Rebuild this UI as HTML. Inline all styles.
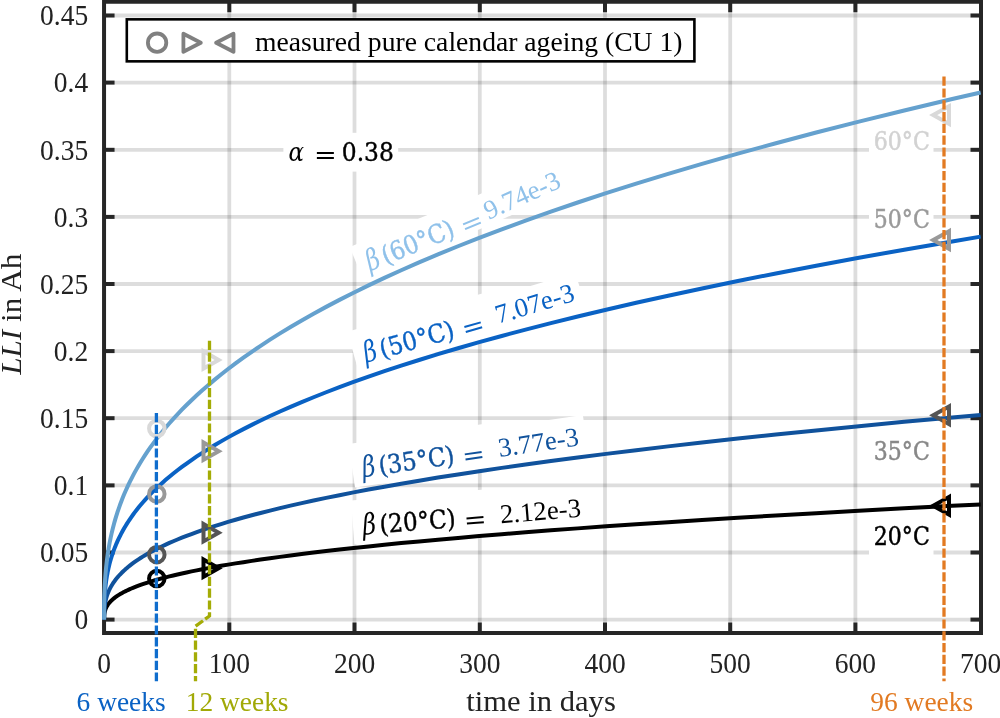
<!DOCTYPE html>
<html><head><meta charset="utf-8"><title>LLI calendar ageing</title>
<style>
html,body{margin:0;padding:0;background:#fff;}
body{width:1000px;height:718px;overflow:hidden;}
svg{display:block;}
text{font-family:"Liberation Serif",serif;}
.tk{font-size:27.5px;fill:#222;}
.m{font-family:"DejaVu Serif Condensed","DejaVu Serif","Liberation Serif",serif;}
</style></head><body>
<svg width="1000" height="718" viewBox="0 0 1000 718">
<rect width="1000" height="718" fill="#fff"/>

<g stroke="#000" stroke-opacity="0.135" stroke-width="3.8" fill="none">
<line x1="229.3" y1="1.75" x2="229.3" y2="633"/>
<line x1="354.5" y1="1.75" x2="354.5" y2="633"/>
<line x1="479.8" y1="1.75" x2="479.8" y2="633"/>
<line x1="605.0" y1="1.75" x2="605.0" y2="633"/>
<line x1="730.2" y1="1.75" x2="730.2" y2="633"/>
<line x1="855.4" y1="1.75" x2="855.4" y2="633"/>
<line x1="104.05" y1="619.6" x2="981" y2="619.6"/>
<line x1="104.05" y1="552.5" x2="981" y2="552.5"/>
<line x1="104.05" y1="485.4" x2="981" y2="485.4"/>
<line x1="104.05" y1="418.2" x2="981" y2="418.2"/>
<line x1="104.05" y1="351.1" x2="981" y2="351.1"/>
<line x1="104.05" y1="284.0" x2="981" y2="284.0"/>
<line x1="104.05" y1="216.9" x2="981" y2="216.9"/>
<line x1="104.05" y1="149.8" x2="981" y2="149.8"/>
<line x1="104.05" y1="82.6" x2="981" y2="82.6"/>
<line x1="104.05" y1="15.5" x2="981" y2="15.5"/>
</g>
<g stroke="#262626" stroke-width="4" fill="none">
<line x1="229.3" y1="633" x2="229.3" y2="622.5"/>
<line x1="229.3" y1="1.75" x2="229.3" y2="12.25"/>
<line x1="354.5" y1="633" x2="354.5" y2="622.5"/>
<line x1="354.5" y1="1.75" x2="354.5" y2="12.25"/>
<line x1="479.8" y1="633" x2="479.8" y2="622.5"/>
<line x1="479.8" y1="1.75" x2="479.8" y2="12.25"/>
<line x1="605.0" y1="633" x2="605.0" y2="622.5"/>
<line x1="605.0" y1="1.75" x2="605.0" y2="12.25"/>
<line x1="730.2" y1="633" x2="730.2" y2="622.5"/>
<line x1="730.2" y1="1.75" x2="730.2" y2="12.25"/>
<line x1="855.4" y1="633" x2="855.4" y2="622.5"/>
<line x1="855.4" y1="1.75" x2="855.4" y2="12.25"/>
<line x1="104.05" y1="619.6" x2="114.55" y2="619.6"/>
<line x1="981" y1="619.6" x2="970.5" y2="619.6"/>
<line x1="104.05" y1="552.5" x2="114.55" y2="552.5"/>
<line x1="981" y1="552.5" x2="970.5" y2="552.5"/>
<line x1="104.05" y1="485.4" x2="114.55" y2="485.4"/>
<line x1="981" y1="485.4" x2="970.5" y2="485.4"/>
<line x1="104.05" y1="418.2" x2="114.55" y2="418.2"/>
<line x1="981" y1="418.2" x2="970.5" y2="418.2"/>
<line x1="104.05" y1="351.1" x2="114.55" y2="351.1"/>
<line x1="981" y1="351.1" x2="970.5" y2="351.1"/>
<line x1="104.05" y1="284.0" x2="114.55" y2="284.0"/>
<line x1="981" y1="284.0" x2="970.5" y2="284.0"/>
<line x1="104.05" y1="216.9" x2="114.55" y2="216.9"/>
<line x1="981" y1="216.9" x2="970.5" y2="216.9"/>
<line x1="104.05" y1="149.8" x2="114.55" y2="149.8"/>
<line x1="981" y1="149.8" x2="970.5" y2="149.8"/>
<line x1="104.05" y1="82.6" x2="114.55" y2="82.6"/>
<line x1="981" y1="82.6" x2="970.5" y2="82.6"/>
<line x1="104.05" y1="15.5" x2="114.55" y2="15.5"/>
<line x1="981" y1="15.5" x2="970.5" y2="15.5"/>
</g>
<rect x="104.05" y="1.75" width="876.95" height="631.25" fill="none" stroke="#262626" stroke-width="4"/>
<g class="tk" text-anchor="end">
<text transform="translate(88.2,629.3) scale(1,1.04)">0</text>
<text transform="translate(88.2,562.2) scale(1,1.04)">0.05</text>
<text transform="translate(88.2,495.1) scale(1,1.04)">0.1</text>
<text transform="translate(88.2,427.9) scale(1,1.04)">0.15</text>
<text transform="translate(88.2,360.8) scale(1,1.04)">0.2</text>
<text transform="translate(88.2,293.7) scale(1,1.04)">0.25</text>
<text transform="translate(88.2,226.6) scale(1,1.04)">0.3</text>
<text transform="translate(88.2,159.5) scale(1,1.04)">0.35</text>
<text transform="translate(88.2,92.3) scale(1,1.04)">0.4</text>
<text transform="translate(88.2,25.2) scale(1,1.04)">0.45</text>
</g>
<g class="tk" text-anchor="middle">
<text transform="translate(104.1,672.9) scale(1,1.04)">0</text>
<text transform="translate(229.3,672.9) scale(1,1.04)">100</text>
<text transform="translate(354.5,672.9) scale(1,1.04)">200</text>
<text transform="translate(479.8,672.9) scale(1,1.04)">300</text>
<text transform="translate(605.0,672.9) scale(1,1.04)">400</text>
<text transform="translate(730.2,672.9) scale(1,1.04)">500</text>
<text transform="translate(855.4,672.9) scale(1,1.04)">600</text>
<text transform="translate(980.6,672.9) scale(1,1.04)">700</text>
</g>
<text transform="translate(541,711.3) scale(1.045,1)" text-anchor="middle" font-size="29.3" fill="#222">time in days</text>
<text transform="translate(20.9,314.2) rotate(-90) scale(1.045,1)" text-anchor="middle" font-size="29.8" fill="#222"><tspan font-style="italic">LLI</tspan> in Ah</text>
<g transform="translate(369.5,271.4) rotate(-22.4)" fill="#fff"><rect x="-9" y="-30" width="134" height="33"/><rect transform="translate(129.5,-2.2) rotate(-1.7)" x="-6" y="-27" width="94.5" height="32"/></g>
<g transform="translate(365.5,363.0) rotate(-15.8)" fill="#fff"><rect x="-9" y="-35" width="143" height="44"/><rect transform="translate(138.5,-1.5) rotate(-1)" x="-6" y="-27" width="94.5" height="34"/></g>
<g transform="translate(362.6,477.3) rotate(-8.4)" fill="#fff"><rect x="-9" y="-35" width="143" height="44"/><rect transform="translate(138.5,0) rotate(0)" x="-6" y="-29.5" width="94.5" height="36.5"/></g>
<g transform="translate(362.7,534.7) rotate(-4.7)" fill="#fff"><rect x="-9" y="-35" width="143" height="44"/><rect transform="translate(138.5,0) rotate(0)" x="-6" y="-27" width="94.5" height="34"/></g>
<rect x="283.4" y="132.8" width="114.8" height="38.8" fill="#fff"/>
<path d="M104.10,619.20 L104.13,617.05 L104.13,617.00 L104.13,616.95 L104.13,616.90 L104.13,616.85 L104.13,616.79 L104.14,616.74 L104.14,616.69 L104.14,616.63 L104.14,616.57 L104.14,616.51 L104.15,616.45 L104.15,616.39 L104.15,616.33 L104.16,616.26 L104.16,616.20 L104.16,616.13 L104.17,616.06 L104.17,615.99 L104.18,615.92 L104.18,615.85 L104.19,615.77 L104.19,615.70 L104.20,615.62 L104.20,615.54 L104.21,615.45 L104.21,615.37 L104.22,615.29 L104.23,615.20 L104.24,615.11 L104.24,615.02 L104.25,614.92 L104.26,614.83 L104.27,614.73 L104.28,614.63 L104.29,614.53 L104.30,614.42 L104.32,614.31 L104.33,614.21 L104.34,614.09 L104.36,613.98 L104.37,613.86 L104.39,613.74 L104.41,613.62 L104.43,613.50 L104.44,613.37 L104.47,613.24 L104.49,613.10 L104.51,612.97 L104.54,612.83 L104.56,612.69 L104.59,612.54 L104.62,612.39 L104.65,612.24 L104.68,612.08 L104.72,611.92 L104.75,611.76 L104.79,611.59 L104.84,611.42 L104.88,611.25 L104.93,611.07 L104.98,610.89 L105.03,610.70 L105.08,610.51 L105.14,610.32 L105.21,610.12 L105.27,609.92 L105.34,609.71 L105.42,609.50 L105.50,609.28 L105.58,609.06 L105.67,608.83 L105.76,608.60 L105.86,608.36 L105.97,608.12 L106.08,607.87 L106.20,607.61 L106.32,607.35 L106.46,607.09 L106.60,606.82 L106.75,606.54 L106.91,606.26 L107.08,605.97 L107.26,605.67 L107.45,605.37 L107.65,605.06 L107.86,604.74 L108.08,604.42 L108.32,604.09 L108.58,603.75 L108.84,603.40 L109.13,603.05 L109.43,602.69 L109.75,602.32 L110.09,601.94 L110.45,601.55 L110.83,601.16 L111.23,600.76 L111.66,600.34 L112.12,599.92 L112.60,599.49 L113.11,599.05 L113.65,598.60 L114.22,598.14 L114.83,597.66 L115.47,597.18 L116.15,596.69 L116.88,596.18 L117.64,595.67 L118.46,595.14 L119.32,594.60 L120.23,594.05 L121.20,593.49 L122.22,592.91 L123.31,592.33 L124.46,591.72 L125.69,591.11 L126.98,590.48 L128.35,589.84 L129.81,589.18 L131.35,588.51 L132.99,587.82 L134.72,587.12 L136.56,586.40 L138.51,585.66 L140.57,584.91 L142.76,584.15 L145.08,583.36 L147.54,582.56 L150.14,581.74 L152.91,580.90 L155.83,580.04 L158.94,579.17 L162.23,578.27 L165.72,577.35 L169.41,576.42 L173.33,575.46 L177.48,574.48 L181.89,573.48 L186.56,572.45 L191.50,571.41 L196.75,570.34 L202.31,569.24 L208.20,568.12 L214.44,566.98 L221.06,565.81 L228.08,564.62 L235.52,563.39 L243.41,562.15 L251.77,560.87 L260.62,559.56 L270.02,558.23 L279.97,556.86 L290.52,555.47 L301.71,554.04 L313.57,552.58 L326.13,551.09 L339.46,549.56 L353.58,548.00 L368.55,546.41 L384.41,544.78 L401.23,543.11 L419.06,541.41 L437.96,539.67 L457.99,537.89 L479.22,536.07 L501.73,534.21 L525.59,532.30 L550.88,530.36 L577.68,528.37 L606.10,526.34 L636.22,524.26 L668.14,522.13 L701.99,519.96 L737.86,517.74 L775.88,515.46 L816.19,513.14 L858.92,510.77 L904.21,508.34 L952.21,505.86 L980.64,504.43" stroke="#000000" stroke-width="4" fill="none" stroke-linejoin="round"/>
<path d="M104.10,619.00 L104.13,615.17 L104.13,615.09 L104.13,615.00 L104.13,614.91 L104.13,614.82 L104.13,614.72 L104.14,614.63 L104.14,614.53 L104.14,614.43 L104.14,614.33 L104.14,614.22 L104.15,614.11 L104.15,614.01 L104.15,613.89 L104.16,613.78 L104.16,613.66 L104.16,613.54 L104.17,613.42 L104.17,613.30 L104.18,613.17 L104.18,613.04 L104.19,612.90 L104.19,612.77 L104.20,612.63 L104.20,612.49 L104.21,612.34 L104.21,612.19 L104.22,612.04 L104.23,611.88 L104.24,611.72 L104.24,611.56 L104.25,611.39 L104.26,611.22 L104.27,611.05 L104.28,610.87 L104.29,610.69 L104.30,610.50 L104.32,610.31 L104.33,610.12 L104.34,609.92 L104.36,609.72 L104.37,609.51 L104.39,609.30 L104.41,609.08 L104.43,608.86 L104.44,608.63 L104.47,608.40 L104.49,608.16 L104.51,607.92 L104.54,607.67 L104.56,607.41 L104.59,607.16 L104.62,606.89 L104.65,606.62 L104.68,606.34 L104.72,606.06 L104.75,605.77 L104.79,605.47 L104.84,605.17 L104.88,604.86 L104.93,604.54 L104.98,604.22 L105.03,603.89 L105.08,603.55 L105.14,603.20 L105.21,602.85 L105.27,602.49 L105.34,602.12 L105.42,601.74 L105.50,601.36 L105.58,600.96 L105.67,600.56 L105.76,600.14 L105.86,599.72 L105.97,599.29 L106.08,598.85 L106.20,598.40 L106.32,597.94 L106.46,597.46 L106.60,596.98 L106.75,596.49 L106.91,595.99 L107.08,595.47 L107.26,594.94 L107.45,594.40 L107.65,593.85 L107.86,593.29 L108.08,592.72 L108.32,592.13 L108.58,591.52 L108.84,590.91 L109.13,590.28 L109.43,589.64 L109.75,588.98 L110.09,588.31 L110.45,587.62 L110.83,586.92 L111.23,586.20 L111.66,585.47 L112.12,584.72 L112.60,583.95 L113.11,583.16 L113.65,582.36 L114.22,581.54 L114.83,580.70 L115.47,579.84 L116.15,578.97 L116.88,578.07 L117.64,577.15 L118.46,576.22 L119.32,575.26 L120.23,574.28 L121.20,573.28 L122.22,572.26 L123.31,571.21 L124.46,570.14 L125.69,569.05 L126.98,567.93 L128.35,566.78 L129.81,565.61 L131.35,564.42 L132.99,563.20 L134.72,561.95 L136.56,560.67 L138.51,559.36 L140.57,558.03 L142.76,556.66 L145.08,555.27 L147.54,553.84 L150.14,552.38 L152.91,550.89 L155.83,549.37 L158.94,547.81 L162.23,546.21 L165.72,544.58 L169.41,542.92 L173.33,541.21 L177.48,539.47 L181.89,537.69 L186.56,535.87 L191.50,534.01 L196.75,532.11 L202.31,530.16 L208.20,528.17 L214.44,526.14 L221.06,524.06 L228.08,521.93 L235.52,519.76 L243.41,517.54 L251.77,515.27 L260.62,512.95 L270.02,510.57 L279.97,508.14 L290.52,505.66 L301.71,503.12 L313.57,500.53 L326.13,497.88 L339.46,495.17 L353.58,492.39 L368.55,489.56 L384.41,486.66 L401.23,483.70 L419.06,480.67 L437.96,477.57 L457.99,474.40 L479.22,471.17 L501.73,467.86 L525.59,464.47 L550.88,461.01 L577.68,457.48 L606.10,453.86 L636.22,450.16 L668.14,446.38 L701.99,442.52 L737.86,438.57 L775.88,434.53 L816.19,430.40 L858.92,426.17 L904.21,421.86 L952.21,417.44 L980.64,414.90" stroke="#10529c" stroke-width="4" fill="none" stroke-linejoin="round"/>
<path d="M104.10,619.40 L104.13,612.22 L104.13,612.06 L104.13,611.89 L104.13,611.73 L104.13,611.55 L104.13,611.38 L104.14,611.20 L104.14,611.02 L104.14,610.83 L104.14,610.64 L104.14,610.44 L104.15,610.24 L104.15,610.03 L104.15,609.82 L104.16,609.61 L104.16,609.39 L104.16,609.17 L104.17,608.94 L104.17,608.70 L104.18,608.46 L104.18,608.22 L104.19,607.97 L104.19,607.71 L104.20,607.45 L104.20,607.18 L104.21,606.91 L104.21,606.63 L104.22,606.34 L104.23,606.05 L104.24,605.75 L104.24,605.45 L104.25,605.13 L104.26,604.82 L104.27,604.49 L104.28,604.16 L104.29,603.81 L104.30,603.46 L104.32,603.11 L104.33,602.74 L104.34,602.37 L104.36,601.99 L104.37,601.60 L104.39,601.20 L104.41,600.79 L104.43,600.38 L104.44,599.95 L104.47,599.52 L104.49,599.07 L104.51,598.61 L104.54,598.15 L104.56,597.67 L104.59,597.19 L104.62,596.69 L104.65,596.18 L104.68,595.66 L104.72,595.13 L104.75,594.59 L104.79,594.03 L104.84,593.46 L104.88,592.88 L104.93,592.29 L104.98,591.68 L105.03,591.06 L105.08,590.43 L105.14,589.78 L105.21,589.11 L105.27,588.44 L105.34,587.74 L105.42,587.03 L105.50,586.31 L105.58,585.57 L105.67,584.81 L105.76,584.04 L105.86,583.25 L105.97,582.44 L106.08,581.61 L106.20,580.76 L106.32,579.90 L106.46,579.01 L106.60,578.11 L106.75,577.18 L106.91,576.24 L107.08,575.27 L107.26,574.29 L107.45,573.28 L107.65,572.24 L107.86,571.19 L108.08,570.11 L108.32,569.00 L108.58,567.88 L108.84,566.72 L109.13,565.54 L109.43,564.34 L109.75,563.10 L110.09,561.84 L110.45,560.55 L110.83,559.24 L111.23,557.89 L111.66,556.51 L112.12,555.10 L112.60,553.67 L113.11,552.19 L113.65,550.69 L114.22,549.15 L114.83,547.58 L115.47,545.97 L116.15,544.33 L116.88,542.64 L117.64,540.93 L118.46,539.17 L119.32,537.37 L120.23,535.54 L121.20,533.66 L122.22,531.74 L123.31,529.78 L124.46,527.77 L125.69,525.72 L126.98,523.62 L128.35,521.48 L129.81,519.28 L131.35,517.04 L132.99,514.75 L134.72,512.41 L136.56,510.01 L138.51,507.56 L140.57,505.06 L142.76,502.50 L145.08,499.88 L147.54,497.21 L150.14,494.47 L152.91,491.67 L155.83,488.81 L158.94,485.89 L162.23,482.90 L165.72,479.84 L169.41,476.72 L173.33,473.53 L177.48,470.26 L181.89,466.92 L186.56,463.51 L191.50,460.02 L196.75,456.45 L202.31,452.80 L208.20,449.07 L214.44,445.26 L221.06,441.36 L228.08,437.37 L235.52,433.29 L243.41,429.13 L251.77,424.87 L260.62,420.51 L270.02,416.06 L279.97,411.51 L290.52,406.85 L301.71,402.09 L313.57,397.23 L326.13,392.25 L339.46,387.17 L353.58,381.97 L368.55,376.65 L384.41,371.22 L401.23,365.66 L419.06,359.98 L437.96,354.17 L457.99,348.23 L479.22,342.16 L501.73,335.96 L525.59,329.61 L550.88,323.12 L577.68,316.49 L606.10,309.71 L636.22,302.77 L668.14,295.68 L701.99,288.44 L737.86,281.03 L775.88,273.45 L816.19,265.70 L858.92,257.79 L904.21,249.69 L952.21,241.41 L980.64,236.65" stroke="#0a62c4" stroke-width="4" fill="none" stroke-linejoin="round"/>
<path d="M104.10,619.80 L104.13,609.91 L104.13,609.69 L104.13,609.46 L104.13,609.23 L104.13,608.99 L104.13,608.75 L104.14,608.50 L104.14,608.25 L104.14,607.99 L104.14,607.73 L104.14,607.46 L104.15,607.18 L104.15,606.90 L104.15,606.61 L104.16,606.31 L104.16,606.01 L104.16,605.70 L104.17,605.39 L104.17,605.06 L104.18,604.73 L104.18,604.40 L104.19,604.05 L104.19,603.70 L104.20,603.34 L104.20,602.97 L104.21,602.59 L104.21,602.21 L104.22,601.81 L104.23,601.41 L104.24,601.00 L104.24,600.58 L104.25,600.15 L104.26,599.71 L104.27,599.26 L104.28,598.80 L104.29,598.33 L104.30,597.85 L104.32,597.36 L104.33,596.85 L104.34,596.34 L104.36,595.81 L104.37,595.28 L104.39,594.73 L104.41,594.17 L104.43,593.59 L104.44,593.01 L104.47,592.41 L104.49,591.79 L104.51,591.17 L104.54,590.52 L104.56,589.87 L104.59,589.20 L104.62,588.51 L104.65,587.81 L104.68,587.10 L104.72,586.36 L104.75,585.62 L104.79,584.85 L104.84,584.07 L104.88,583.27 L104.93,582.45 L104.98,581.61 L105.03,580.76 L105.08,579.89 L105.14,578.99 L105.21,578.08 L105.27,577.14 L105.34,576.19 L105.42,575.21 L105.50,574.21 L105.58,573.19 L105.67,572.15 L105.76,571.08 L105.86,569.99 L105.97,568.88 L106.08,567.74 L106.20,566.57 L106.32,565.38 L106.46,564.16 L106.60,562.92 L106.75,561.64 L106.91,560.34 L107.08,559.01 L107.26,557.65 L107.45,556.26 L107.65,554.83 L107.86,553.38 L108.08,551.89 L108.32,550.37 L108.58,548.82 L108.84,547.23 L109.13,545.60 L109.43,543.94 L109.75,542.24 L110.09,540.51 L110.45,538.73 L110.83,536.92 L111.23,535.06 L111.66,533.16 L112.12,531.22 L112.60,529.24 L113.11,527.21 L113.65,525.14 L114.22,523.02 L114.83,520.85 L115.47,518.64 L116.15,516.37 L116.88,514.06 L117.64,511.69 L118.46,509.27 L119.32,506.79 L120.23,504.26 L121.20,501.68 L122.22,499.03 L123.31,496.33 L124.46,493.57 L125.69,490.74 L126.98,487.85 L128.35,484.90 L129.81,481.87 L131.35,478.79 L132.99,475.63 L134.72,472.40 L136.56,469.10 L138.51,465.73 L140.57,462.28 L142.76,458.75 L145.08,455.15 L147.54,451.46 L150.14,447.69 L152.91,443.84 L155.83,439.90 L158.94,435.87 L162.23,431.75 L165.72,427.54 L169.41,423.24 L173.33,418.84 L177.48,414.34 L181.89,409.74 L186.56,405.03 L191.50,400.22 L196.75,395.31 L202.31,390.28 L208.20,385.14 L214.44,379.89 L221.06,374.52 L228.08,369.03 L235.52,363.41 L243.41,357.67 L251.77,351.80 L260.62,345.80 L270.02,339.67 L279.97,333.40 L290.52,326.98 L301.71,320.43 L313.57,313.72 L326.13,306.87 L339.46,299.87 L353.58,292.70 L368.55,285.38 L384.41,277.89 L401.23,270.24 L419.06,262.41 L437.96,254.41 L457.99,246.23 L479.22,237.86 L501.73,229.31 L525.59,220.57 L550.88,211.63 L577.68,202.49 L606.10,193.15 L636.22,183.60 L668.14,173.83 L701.99,163.85 L737.86,153.64 L775.88,143.20 L816.19,132.53 L858.92,121.62 L904.21,110.47 L952.21,99.06 L980.64,92.50" stroke="#65a1ce" stroke-width="4" fill="none" stroke-linejoin="round"/>
<g transform="translate(369.5,271.4) rotate(-22.4)"><text class="m" transform="translate(0.6,0) scale(1,1.12)" font-size="26" fill="#8fc1ea" font-style="italic">β</text><text class="m" x="17.5" font-size="25.6" fill="#8fc1ea" stroke="#8fc1ea" stroke-width="0.4">(60°C)</text><text class="m" transform="translate(101.5,2.8) scale(1.18,1)" font-size="25.6" fill="#8fc1ea">=</text><text transform="translate(129.5,-2.2) rotate(-1.7)" font-size="26.8" fill="#8fc1ea">9.74e-3</text></g>
<g transform="translate(365.5,363.0) rotate(-15.8)"><text class="m" transform="translate(0.6,0) scale(1,1.12)" font-size="26" fill="#0a62c4" font-style="italic">β</text><text class="m" x="17.5" font-size="25.6" fill="#0a62c4" stroke="#0a62c4" stroke-width="0.4">(50°C)</text><text class="m" transform="translate(102,2.8) scale(1.18,1)" font-size="25.6" fill="#0a62c4">=</text><text transform="translate(138.5,-1.5) rotate(-1)" font-size="26.8" fill="#0a62c4">7.07e-3</text></g>
<g transform="translate(362.6,477.3) rotate(-8.4)"><text class="m" transform="translate(0.6,0) scale(1,1.12)" font-size="26" fill="#10529c" font-style="italic">β</text><text class="m" x="17.5" font-size="25.6" fill="#10529c" stroke="#10529c" stroke-width="0.4">(35°C)</text><text class="m" transform="translate(101.5,2.8) scale(1.18,1)" font-size="25.6" fill="#10529c">=</text><text transform="translate(138.5,0) rotate(0)" font-size="26.8" fill="#10529c">3.77e-3</text></g>
<g transform="translate(362.7,534.7) rotate(-4.7)"><text class="m" transform="translate(0.6,0) scale(1,1.12)" font-size="26" fill="#000" font-style="italic">β</text><text class="m" x="17.5" font-size="25.6" fill="#000" stroke="#000" stroke-width="0.4">(20°C)</text><text class="m" transform="translate(102,2.8) scale(1.18,1)" font-size="25.6" fill="#000">=</text><text transform="translate(138.5,0) rotate(0)" font-size="26.8" fill="#000">2.12e-3</text></g>
<g transform="translate(288.5,161.2)"><text class="m" font-size="25.5" font-style="italic" fill="#000">α</text><text class="m" transform="translate(25.5,2.8) scale(1.18,1)" font-size="25.6" fill="#000">=</text><text class="m" x="53.3" font-size="26" fill="#000" stroke="#000" stroke-width="0.35">0.38</text></g>
<rect x="869" y="124" width="64.5" height="37" fill="#fff"/><text class="m" x="873.8" y="150" font-size="25.8" fill="#d2d2d2" stroke="#d2d2d2" stroke-width="0.45" textLength="56" lengthAdjust="spacingAndGlyphs">60°C</text>
<rect x="869" y="201.6" width="64.5" height="37" fill="#fff"/><text class="m" x="873.8" y="227.6" font-size="25.8" fill="#9a9a9a" stroke="#9a9a9a" stroke-width="0.45" textLength="56" lengthAdjust="spacingAndGlyphs">50°C</text>
<rect x="869" y="434.3" width="64.5" height="37" fill="#fff"/><text class="m" x="873.8" y="460.3" font-size="25.8" fill="#888" stroke="#888" stroke-width="0.45" textLength="56" lengthAdjust="spacingAndGlyphs">35°C</text>
<rect x="869" y="518.5" width="64.5" height="37" fill="#fff"/><text class="m" x="873.8" y="544.5" font-size="25.8" fill="#000" stroke="#000" stroke-width="0.45" textLength="56" lengthAdjust="spacingAndGlyphs">20°C</text>
<circle cx="156.8" cy="428.5" r="7.75" fill="none" stroke="#d9d9d9" stroke-width="4"/>
<circle cx="156.8" cy="494" r="7.75" fill="none" stroke="#999999" stroke-width="4"/>
<circle cx="156.8" cy="554.7" r="7.75" fill="none" stroke="#555555" stroke-width="4"/>
<circle cx="156.8" cy="578.6" r="7.75" fill="none" stroke="#000000" stroke-width="4"/>
<path d="M203.5,351.2 L218.7,359.9 L203.5,368.59999999999997 Z" fill="none" stroke="#d9d9d9" stroke-width="4" stroke-linejoin="miter"/>
<path d="M203.5,442.5 L218.7,451.2 L203.5,459.9 Z" fill="none" stroke="#999999" stroke-width="4" stroke-linejoin="miter"/>
<path d="M203.5,524.0 L218.7,532.7 L203.5,541.4000000000001 Z" fill="none" stroke="#555555" stroke-width="4" stroke-linejoin="miter"/>
<path d="M203.5,559.5 L218.7,568.2 L203.5,576.9000000000001 Z" fill="none" stroke="#000000" stroke-width="4" stroke-linejoin="miter"/>
<path d="M949,106.3 L933.2,115.1 L949,123.89999999999999 Z" fill="none" stroke="#d9d9d9" stroke-width="4" stroke-linejoin="miter"/>
<path d="M949,231.2 L933.2,240 L949,248.8 Z" fill="none" stroke="#999999" stroke-width="4" stroke-linejoin="miter"/>
<path d="M949,406.4 L933.2,415.2 L949,424.0 Z" fill="none" stroke="#555555" stroke-width="4" stroke-linejoin="miter"/>
<path d="M949,497.0 L933.2,505.8 L949,514.6 Z" fill="none" stroke="#000000" stroke-width="4" stroke-linejoin="miter"/>
<path d="M156.4,413 V681.3" stroke="#0f6dcd" stroke-width="3.3" stroke-dasharray="9.2 2.6" fill="none"/>
<path d="M209.5,340.8 V616 L195.5,626.2 V681.3" stroke="#a4ac06" stroke-width="3.3" stroke-dasharray="9.2 2.6" fill="none"/>
<path d="M944,76.6 V681.3" stroke="#e27a22" stroke-width="3.3" stroke-dasharray="9.2 2.6" fill="none"/>
<text x="76.6" y="711" font-size="27.4" fill="#0a62c4">6 weeks</text>
<text x="185.8" y="711" font-size="27.4" fill="#a1a906">12 weeks</text>
<text x="870.3" y="711" font-size="27.45" fill="#e27a22">96 weeks</text>
<rect x="126.8" y="19.35" width="567.6" height="42" fill="#fff" stroke="#000" stroke-width="2.6"/>
<circle cx="157.1" cy="42.7" r="9.2" fill="none" stroke="#808080" stroke-width="3.8"/>
<path d="M183.4,33.7 L200.8,42.75 L183.4,51.8 Z" fill="none" stroke="#808080" stroke-width="3.8" stroke-linejoin="round"/>
<path d="M233.5,33.7 L216.1,42.75 L233.5,51.8 Z" fill="none" stroke="#808080" stroke-width="3.8" stroke-linejoin="round"/>
<text x="255" y="51" font-size="27.65" fill="#000">measured pure calendar ageing (CU 1)</text>
</svg></body></html>
